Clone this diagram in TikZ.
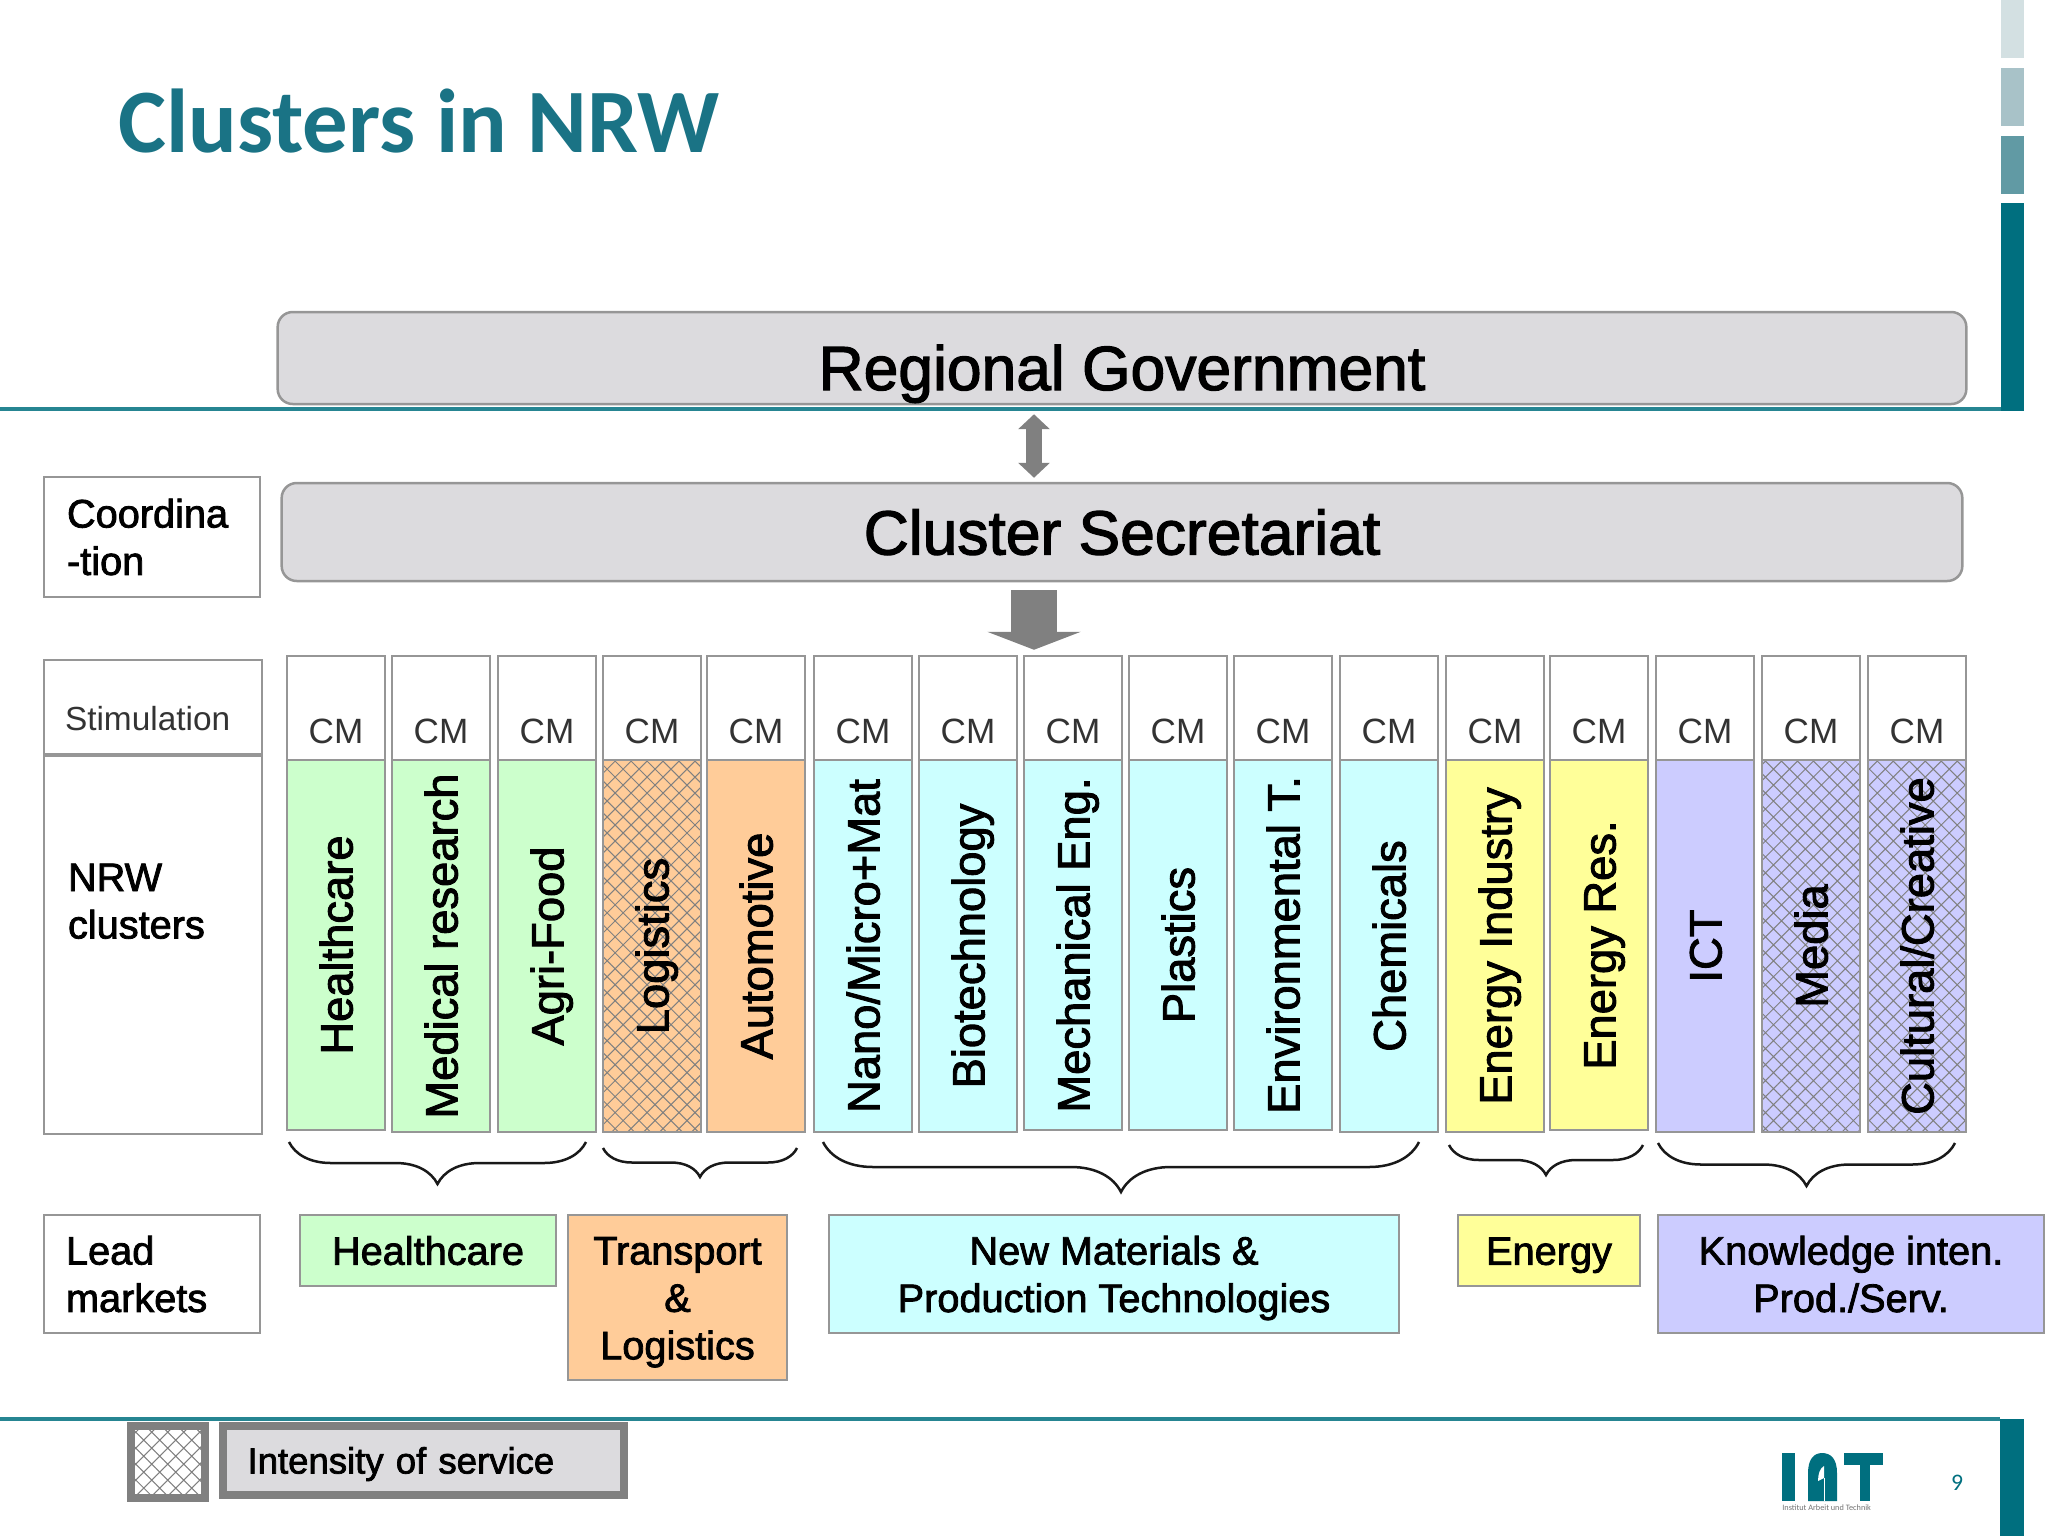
\documentclass[tikz,border=0pt]{standalone}
\usepackage{fontspec}
\setmainfont{Liberation Sans}
\newfontfamily\labelfont[FakeBold=2]{Liberation Sans}
\newfontfamily\slidefont{Carlito}
\usetikzlibrary{arrows.meta,patterns.meta,decorations.pathreplacing}
\definecolor{slideteal}{HTML}{006F7F}
\definecolor{titleteal}{HTML}{1A7385}
\definecolor{stripa}{HTML}{D3E0E2}
\definecolor{stripb}{HTML}{A8C2C8}
\definecolor{stripc}{HTML}{619AA4}
\definecolor{rulegrey}{HTML}{969696}
\definecolor{boxgrey}{HTML}{DCDBDE}
\definecolor{arrowgrey}{HTML}{808080}
\definecolor{hcgreen}{HTML}{CCFFCC}
\definecolor{tlorange}{HTML}{FFCC99}
\definecolor{nmcyan}{HTML}{CCFFFF}
\definecolor{enyellow}{HTML}{FFFF99}
\definecolor{kiviolet}{HTML}{CCCCFF}
\begin{document}
\begin{tikzpicture}
            [x=0.02cm, y=-0.02cm,
            govbox/.style={draw=rulegrey, fill=boxgrey, rounded corners=0.3cm, line width=0.05cm, inner sep=0,
                font=\labelfont\fontsize{35.5}{40}\selectfont, text height=1.28cm, text depth=0pt},
            leftbox/.style={draw=rulegrey, fill=white, line width=0.04cm, inner xsep=0.4cm, inner ysep=0,
                text width=3.4cm, text height=0.57cm, text depth=0.95cm, font=\labelfont\fontsize{22.6}{27}\selectfont},
            cmbox/.style={draw=rulegrey, fill=white, line width=0.05cm, inner sep=0, minimum width=1.96cm, minimum height=2.08cm,
                text height=1.42cm, text depth=0pt, font=\fontsize{20}{22}\selectfont, text=black!80},
            bar/.style={draw=rulegrey, fill=#1, line width=0.05cm, inner sep=0, rotate=90, minimum width=7.44cm, minimum height=1.96cm,
                text height=0.66cm, text depth=0pt, font=\labelfont\fontsize{25.8}{28}\selectfont},
            hatchbar/.style={bar=#1, fill=none, preaction={fill=#1},
                pattern={Hatch[angle=45,distance=0.226cm,line width=0.02cm]}, pattern color=arrowgrey},
            short/.style={minimum width=7.4cm},
            leadbox/.style={draw=rulegrey, fill=#1, line width=0.04cm, inner sep=0, align=center,
                text height=0.57cm, text depth=0pt, font=\labelfont\fontsize{22.6}{27}\selectfont},
            leadbrace/.style={decorate, decoration={brace,mirror,amplitude=#1}, line width=0.05cm, black!90},
            legend/.style={draw=arrowgrey, line width=0.16cm, inner sep=0}]

            \useasboundingbox (0,0) rectangle (2048,1536);

            % slide frame
            \fill[stripa] (2001,0) rectangle (2024,58);
            \fill[stripb] (2001,68) rectangle (2024,126);
            \fill[stripc] (2001,136) rectangle (2024,194);
            \fill[slideteal] (2001,203) rectangle (2024,411);
            \fill[slideteal] (2000,1419) rectangle (2024,1536);
            \draw[slideteal!85, line width=0.07cm] (0,409) -- (2001,409);
            \draw[slideteal!85, line width=0.07cm] (0,1419) -- (2000,1419);

            \node[anchor=base west, inner sep=0, text=titleteal, font=\slidefont\bfseries\fontsize{51.6}{55}\selectfont] (title) at (118,152) {Clusters in NRW};

            \node[govbox, minimum width=33.78cm, minimum height=1.84cm] (gov) at (1122,358) {Regional Government};
            \node[govbox, minimum width=33.62cm, minimum height=1.96cm, text height=0.9cm] (sec) at (1122,532) {Cluster Secretariat};

            \node[leftbox, minimum width=4.32cm, minimum height=2.4cm] (coord) at (152,537) {Coordina\\-tion};
            \node[leftbox, minimum width=4.36cm, minimum height=1.89cm, text width=3.52cm, text height=0.92cm, text depth=0pt, font=\fontsize{19}{22}\selectfont, text=black!80] (stim) at (153,707) {Stimulation};
            \node[leftbox, minimum width=4.36cm, minimum height=7.55cm, text height=0.64cm, text depth=2.8cm] (nrw) at (153,945) {NRW\\clusters};
            \node[leftbox, minimum width=4.32cm, minimum height=2.36cm, text width=3.44cm] (lead) at (152,1274) {Lead\\markets};

            \node[cmbox] (cma) at (336,708) {CM};
            \node[cmbox] (cmb) at (441,708) {CM};
            \node[cmbox] (cmc) at (547,708) {CM};
            \node[cmbox] (cmd) at (652,708) {CM};
            \node[cmbox] (cme) at (756,708) {CM};
            \node[cmbox] (cmf) at (863,708) {CM};
            \node[cmbox] (cmg) at (968,708) {CM};
            \node[cmbox] (cmh) at (1073,708) {CM};
            \node[cmbox] (cmi) at (1178,708) {CM};
            \node[cmbox] (cmj) at (1283,708) {CM};
            \node[cmbox] (cmk) at (1389,708) {CM};
            \node[cmbox] (cml) at (1495,708) {CM};
            \node[cmbox] (cmm) at (1599,708) {CM};
            \node[cmbox] (cmn) at (1705,708) {CM};
            \node[cmbox] (cmo) at (1811,708) {CM};
            \node[cmbox] (cmp) at (1917,708) {CM};

            \node[bar=hcgreen, short] (healthcare) at (336,945) {Healthcare};
            \node[bar=hcgreen] (medical) at (441,946) {Medical research};
            \node[bar=hcgreen] (agrifood) at (547,946) {Agri-Food};
            \node[hatchbar=tlorange] (logistics) at (652,946) {Logistics};
            \node[bar=tlorange] (automotive) at (756,946) {Automotive};
            \node[bar=nmcyan] (nano) at (863,946) {Nano/Micro+Mat};
            \node[bar=nmcyan] (biotech) at (968,946) {Biotechnology};
            \node[bar=nmcyan, short] (mecheng) at (1073,945) {Mechanical Eng.};
            \node[bar=nmcyan, short] (plastics) at (1178,945) {Plastics};
            \node[bar=nmcyan, short] (envtech) at (1283,945) {Environmental T.};
            \node[bar=nmcyan] (chemicals) at (1389,946) {Chemicals};
            \node[bar=enyellow] (enind) at (1495,946) {Energy Industry};
            \node[bar=enyellow, short] (enres) at (1599,945) {Energy Res.};
            \node[bar=kiviolet] (ict) at (1705,946) {ICT};
            \node[hatchbar=kiviolet] (media) at (1811,946) {Media};
            \node[hatchbar=kiviolet] (cultural) at (1917,946) {Cultural/Creative};

            \node[leadbox=hcgreen, minimum width=5.13cm, minimum height=1.42cm] (leadhc) at (428,1250.5) {Healthcare};
            \node[leadbox=tlorange, minimum width=4.38cm, minimum height=3.3cm, text height=2.47cm] (leadtl) at (677.5,1297.5) {Transport\\\&\\Logistics};
            \node[leadbox=nmcyan, minimum width=11.4cm, minimum height=2.36cm, text height=1.52cm] (leadnm) at (1114,1274) {New Materials \&\\Production Technologies};
            \node[leadbox=enyellow, minimum width=3.64cm, minimum height=1.42cm] (leaden) at (1549,1250.5) {Energy};
            \node[leadbox=kiviolet, minimum width=7.72cm, minimum height=2.36cm, text height=1.52cm] (leadki) at (1851,1274) {Knowledge inten.\\Prod./Serv.};

            \coordinate (arrowx) at (1034,0);
            \coordinate (bra) at (289,1142);
            \coordinate (brb) at (586,1142);
            \coordinate (brc) at (603,1148);
            \coordinate (brd) at (797,1148);
            \coordinate (bre) at (823,1142);
            \coordinate (brf) at (1419,1142);
            \coordinate (brg) at (1449,1145);
            \coordinate (brh) at (1643,1145);
            \coordinate (bri) at (1658,1143);
            \coordinate (brj) at (1955,1143);

            \draw[arrowgrey, line width=0.32cm, shorten <=0.18cm, shorten >=0.08cm,
                {Triangle[width=0.62cm,length=0.3cm]}-{Triangle[width=0.62cm,length=0.3cm]}] (gov.south -| arrowx) -- (sec.north -| arrowx);
            \draw[arrowgrey, line width=0.92cm, shorten <=0.16cm, shorten >=0.1cm,
                -{Triangle[width=1.86cm,length=0.36cm]}] (sec.south -| arrowx) -- (cmh.north -| arrowx);

            \draw[leadbrace=0.84cm] (bra) -- (brb);
            \draw[leadbrace=0.58cm] (brc) -- (brd);
            \draw[leadbrace=1cm] (bre) -- (brf);
            \draw[leadbrace=0.6cm] (brg) -- (brh);
            \draw[leadbrace=0.86cm] (bri) -- (brj);

            % legend
            \node[legend, preaction={fill=white}, pattern={Hatch[angle=45,distance=0.226cm,line width=0.02cm]}, pattern color=arrowgrey, minimum width=1.48cm, minimum height=1.44cm] (keyhatch) at (168,1462) {};
            \node[legend, fill=boxgrey, minimum width=8.04cm, minimum height=1.38cm, inner xsep=0.5cm, text width=7.04cm, text height=0.52cm, text depth=0pt, font=\labelfont\fontsize{20.8}{24}\selectfont] (keytext) at (423.5,1460.5) {Intensity of service};

            % logo
            \fill[slideteal] (1782,1453) rectangle (1795,1501);
            \fill[slideteal] (1808,1501) -- (1808,1473) .. controls (1808,1459) and (1814,1453) .. (1822,1453) .. controls (1831,1453) and (1837,1459) .. (1837,1473) -- (1837,1501) -- cycle;
            \fill[white] (1824,1466) .. controls (1820,1468) and (1818,1474) .. (1818,1481) -- (1824,1478) -- cycle;
            \draw[white, line width=0.012cm] (1824,1478) -- (1824,1501);
            \fill[slideteal] (1844,1453) rectangle (1883,1465);
            \fill[slideteal] (1860,1465) rectangle (1870,1501);
            \node[anchor=base west, inner sep=0, text=black!55, font=\slidefont\fontsize{4.7}{5}\selectfont] (iatname) at (1782,1510) {Institut Arbeit und Technik};
            \node[anchor=base, inner sep=0, text=slideteal, font=\slidefont\fontsize{13.5}{15}\selectfont] (pagenr) at (1957,1490) {9};

        \end{tikzpicture}
\end{document}
